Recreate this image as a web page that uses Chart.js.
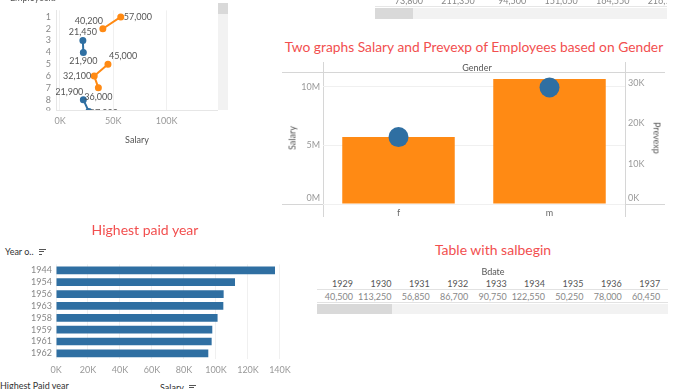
<!DOCTYPE html>
<html><head><meta charset="utf-8">
<script src="https://cdn.jsdelivr.net/npm/chart.js@4.4.0/dist/chart.umd.min.js"></script>
<style>
html,body{margin:0;padding:0;background:#fff;width:680px;height:389px;overflow:hidden;font-family:Lato,'Open Sans',sans-serif;}
.box{position:absolute;}
.t{position:absolute;white-space:nowrap;line-height:1;}
.title{color:#f24f4f;font-size:14px;transform:translate(-50%,-50%);}
.sm{font-size:9px;color:#555;}
.cen{transform:translate(-50%,-50%);}
.sb{position:absolute;background:#f2f2f2;}
.sbt{position:absolute;background:#d9d9d9;}
.sort{display:inline-block;vertical-align:middle;margin-left:3px;width:7px;}
.sort i{display:block;height:1px;background:#555;margin-bottom:1.5px;}
</style></head><body>

<!-- chart 1: salary per employee -->
<div class="box" style="left:0;top:0;width:230px;height:150px;"><canvas id="c1" width="230" height="150"></canvas></div>
<div class="t sm" style="left:10px;top:-7px;">Employeeid</div>
<div class="sb" style="left:218px;top:3px;width:10px;height:107px;"></div>
<div class="sbt" style="left:218px;top:3px;width:10px;height:11px;"></div>
<div class="t sm cen" style="left:137px;top:139px;">Salary</div>

<!-- top table fragment -->
<div class="box" id="topTable" style="left:375px;top:-4px;width:292px;height:11px;overflow:hidden;"></div>
<div class="box" style="left:375px;top:6px;width:292px;height:1px;background:#e6e6e6;"></div>
<div class="sb" style="left:375px;top:8px;width:292px;height:11px;"></div>
<div class="sbt" style="left:375px;top:8px;width:38px;height:11px;"></div>

<!-- chart 2 -->
<div class="t title" style="left:474px;top:47px;font-size:13.8px;">Two graphs Salary and Prevexp of Employees based on Gender</div>
<div class="box" style="left:270px;top:58px;width:410px;height:165px;"><canvas id="c2" width="410" height="165"></canvas></div>
<div class="t sm cen" style="left:477px;top:67px;">Gender</div>
<div class="t sm cen" style="left:292px;top:138px;transform:translate(-50%,-50%) rotate(-90deg);">Salary</div>
<div class="t sm cen" style="left:657px;top:138px;transform:translate(-50%,-50%) rotate(90deg);">Prevexp</div>

<!-- chart 3 -->
<div class="t title" style="left:145px;top:230px;">Highest paid year</div>
<div class="t sm" style="left:5px;top:247px;color:#333;">Year o.. <span class="sort"><i style="width:7px"></i><i style="width:5px"></i><i style="width:3px"></i></span></div>
<div class="box" style="left:0;top:255px;width:300px;height:125px;"><canvas id="c3" width="300" height="125"></canvas></div>
<div class="t sm" style="left:0px;top:381px;color:#333;">Highest Paid year</div>
<div class="t sm" style="left:160px;top:383px;color:#333;">Salary <span class="sort"><i style="width:7px"></i><i style="width:5px"></i><i style="width:3px"></i></span></div>

<!-- table -->
<div class="t title" style="left:493px;top:250px;">Table with salbegin</div>
<div class="t sm cen" style="left:493px;top:271px;">Bdate</div>
<div class="box" id="bTable" style="left:317px;top:278px;width:351px;height:26px;"></div>
<div class="box" style="left:317px;top:289px;width:351px;height:1px;background:#e2e2e2;"></div>
<div class="box" style="left:317px;top:302px;width:351px;height:1px;background:#e2e2e2;"></div>
<div class="sb" style="left:317px;top:304px;width:351px;height:10px;"></div>
<div class="sbt" style="left:317px;top:304px;width:75px;height:10px;"></div>

<script>
// ---------- data ----------
const employeeIds = [1, 2, 3, 4, 5, 6, 7, 8, 9];
const empSalaryMale = [57000, 40200, null, null, 45000, 32100, 36000, null, null];
const empSalaryFemale = [null, null, 21450, 21900, null, null, null, 21900, 27000];
const salaryTicksK = [0, 50000, 100000];

const genders = ['f', 'm'];
const genderSalary = [5730000, 10680000];
const genderPrevexp = [16600, 28900];
const salaryTicksM = [0, 5000000, 10000000];
const prevexpTicks = [0, 10000, 20000, 30000];

const paidYears = ['1944', '1954', '1956', '1963', '1958', '1959', '1961', '1962'];
const paidYearSalary = [136900, 111900, 104800, 104600, 101000, 97700, 97300, 95200];
const paidTicks = [0, 20000, 40000, 60000, 80000, 100000, 120000, 140000];

const bdateYears = ['1929', '1930', '1931', '1932', '1933', '1934', '1935', '1936', '1937'];
const salbeginValues = [40500, 113250, 56850, 86700, 90750, 122550, 50250, 78000, 60450];

const topTableValues = [73800, 211350, 94500, 151050, 164550, 216750];

// ---------- styling ----------
const ORANGE = '#ff8a14';
const BLUE = '#2f6fa2';
const TICK = '#999';
const FONT = 'Lato';
Chart.defaults.font.family = FONT;
Chart.defaults.font.size = 9;
Chart.defaults.color = TICK;
Chart.defaults.animation = false;
Chart.defaults.plugins.legend.display = false;
Chart.defaults.plugins.tooltip.enabled = false;

const fmt = v => v.toLocaleString('en-US');
const fitW = w => s => { s.width = w; };
const fitH = h => s => { s.height = h; };
const setTicks = arr => s => { s.ticks = arr.map(v => ({ value: v })); };

// ---------- chart 1 ----------
const labelPos = [[3,0,'left'],[0,-8,'right'],[0,-8,'center'],[0,9,'center'],[1,-8,'left'],[-3,0,'right'],[0,9,'center'],[0,-8,'right'],[1,2,'left']];
const pointLabels = {
  id: 'pointLabels',
  afterDatasetsDraw(chart) {
    const ctx = chart.ctx, a = chart.chartArea;
    ctx.save();
    ctx.beginPath(); ctx.rect(a.left, a.top - 3, a.right - a.left, a.bottom - a.top + 3); ctx.clip();
    ctx.font = '9px ' + FONT; ctx.fillStyle = '#555'; ctx.textBaseline = 'middle';
    chart.data.datasets.forEach((ds, di) => {
      const meta = chart.getDatasetMeta(di);
      ds.data.forEach((raw, i) => {
        if (raw.x == null) return;
        const el = meta.data[i], p = labelPos[i];
        ctx.textAlign = p[2];
        ctx.fillText(fmt(raw.x), el.x + p[0], el.y + p[1]);
      });
    });
    ctx.restore();
  },
  afterDraw(chart) {
    const a = chart.chartArea, ctx = chart.ctx;
    ctx.fillStyle = '#fff';
    ctx.fillRect(0, a.bottom + 0.5, a.left - 1, 7);
  }
};
const mk = arr => employeeIds.map((id, i) => ({ x: arr[i], y: id }));
new Chart(document.getElementById('c1'), {
  type: 'line',
  data: { datasets: [
    { data: mk(empSalaryMale), borderColor: ORANGE, backgroundColor: ORANGE, borderWidth: 2, pointRadius: 2.5, spanGaps: false },
    { data: mk(empSalaryFemale), borderColor: BLUE, backgroundColor: BLUE, borderWidth: 2, pointRadius: 2.5, spanGaps: false }
  ]},
  options: {
    responsive: false,
    layout: { padding: { top: 3, right: 13, left: 0, bottom: 0 } },
    scales: {
      x: { type: 'linear', min: -3750, max: 147300, afterBuildTicks: setTicks(salaryTicksK), afterFit: fitH(40),
           ticks: { callback: v => (v / 1000) + 'K', padding: 6, autoSkip: false, maxRotation: 0 },
           grid: { color: '#f0f0f0', drawTicks: false, tickLength: 0 }, border: { color: '#e6e6e6' } },
      y: { type: 'linear', reverse: true, min: 0.4488, max: 8.874, afterBuildTicks: setTicks(employeeIds), afterFit: fitW(56),
           ticks: { callback: v => String(v), padding: 5, autoSkip: false, color: '#888' },
           grid: { display: false, drawTicks: false, tickLength: 0 }, border: { color: '#e6e6e6' } }
    }
  },
  plugins: [pointLabels]
});

// ---------- chart 2 ----------
const frame2 = {
  id: 'frame2',
  beforeDraw(chart) {
    const ctx = chart.ctx, a = chart.chartArea;
    ctx.save(); ctx.strokeStyle = '#d6d6d6'; ctx.lineWidth = 1;
    ctx.beginPath();
    ctx.moveTo(12, Math.round(a.top) + 0.5); ctx.lineTo(395, Math.round(a.top) + 0.5);
    ctx.moveTo(12, Math.round(a.bottom) + 0.5); ctx.lineTo(395, Math.round(a.bottom) + 0.5);
    ctx.moveTo(Math.round(a.left) + 0.5, 4); ctx.lineTo(Math.round(a.left) + 0.5, 159);
    ctx.moveTo(Math.round(a.right) + 0.5, 4); ctx.lineTo(Math.round(a.right) + 0.5, 159);
    ctx.stroke(); ctx.restore();
  },
  afterDraw(chart) {
    // zero labels sit just above the baseline, as in the reference
    const ctx = chart.ctx, a = chart.chartArea;
    ctx.save(); ctx.font = '9px ' + FONT; ctx.fillStyle = TICK; ctx.textBaseline = 'middle';
    ctx.textAlign = 'right'; ctx.fillText('0M', a.left - 3, a.bottom - 6);
    ctx.textAlign = 'left'; ctx.fillText('0K', a.right + 3, a.bottom - 6);
    ctx.restore();
  }
};
new Chart(document.getElementById('c2'), {
  type: 'bar',
  data: { labels: genders, datasets: [
    { type: 'line', data: genderPrevexp, yAxisID: 'y1', showLine: false, pointRadius: 10, backgroundColor: BLUE, borderWidth: 0, order: 0 },
    { type: 'bar', data: genderSalary, yAxisID: 'y', backgroundColor: ORANGE, barPercentage: 0.745, categoryPercentage: 1, order: 1 }
  ]},
  options: {
    responsive: false,
    layout: { padding: { top: 14, left: 0, right: 0, bottom: 0 } },
    scales: {
      x: { afterFit: fitH(19), grid: { display: false, drawTicks: false, tickLength: 0 }, border: { display: false },
           ticks: { padding: 4, color: '#666' } },
      y: { position: 'left', min: 0, max: 11280000, afterBuildTicks: setTicks(salaryTicksM), afterFit: fitW(53),
           ticks: { callback: v => v === 0 ? '' : (v / 1000000) + 'M', padding: 3 },
           grid: { color: '#f0f0f0', drawTicks: false, tickLength: 0 }, border: { display: false } },
      y1: { position: 'right', min: 0, max: 32750, afterBuildTicks: setTicks(prevexpTicks), afterFit: fitW(55),
           ticks: { callback: v => v === 0 ? '' : (v / 1000) + 'K', padding: 3 },
           grid: { display: false, drawTicks: false, tickLength: 0 }, border: { display: false } }
    }
  },
  plugins: [frame2]
});

// ---------- chart 3 ----------
new Chart(document.getElementById('c3'), {
  type: 'bar',
  data: { labels: paidYears, datasets: [
    { data: paidYearSalary, backgroundColor: BLUE, barPercentage: 0.65, categoryPercentage: 1 }
  ]},
  options: {
    responsive: false,
    indexAxis: 'y',
    layout: { padding: { top: 2.6, right: 17, left: 0, bottom: 0 } },
    scales: {
      x: { min: 0, max: 141900, afterBuildTicks: setTicks(paidTicks), afterFit: fitH(20.7),
           ticks: { callback: v => (v / 1000) + 'K', padding: 5, autoSkip: false, maxRotation: 0 },
           grid: { color: '#f0f0f0', drawTicks: false, tickLength: 0 }, border: { display: false } },
      y: { afterFit: fitW(56), grid: { display: false, drawTicks: false, tickLength: 0 }, border: { display: false },
           ticks: { padding: 4, color: '#888', autoSkip: false } }
    }
  }
});

// ---------- text tables ----------
(function () {
  const tt = document.getElementById('topTable');
  topTableValues.forEach((v, i) => {
    const d = document.createElement('div');
    d.className = 't sm'; d.style.color = '#888'; d.style.top = '0px';
    d.style.right = (292 - (48 + 51.6 * i)) + 'px';
    d.textContent = fmt(v);
    tt.appendChild(d);
  });
  const bt = document.getElementById('bTable');
  bdateYears.forEach((y, i) => {
    const r = 351 - (36 + 38.4 * i);
    const h = document.createElement('div');
    h.className = 't sm'; h.style.color = '#555'; h.style.top = '1px'; h.style.right = r + 'px';
    h.textContent = y; bt.appendChild(h);
    const v = document.createElement('div');
    v.className = 't sm'; v.style.color = '#888'; v.style.top = '14px'; v.style.right = r + 'px';
    v.textContent = fmt(salbeginValues[i]); bt.appendChild(v);
  });
})();
</script>
</body></html>
